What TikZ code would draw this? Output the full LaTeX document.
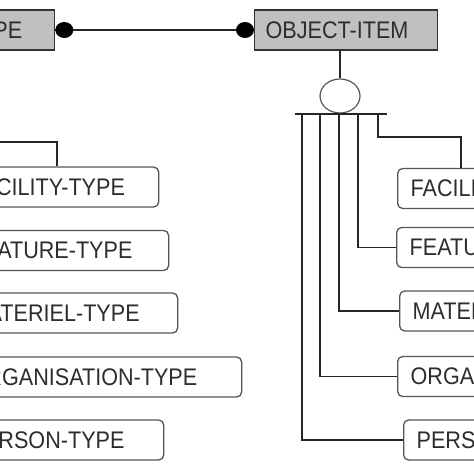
\documentclass[tikz,border=0pt]{standalone}
\usepackage{fontspec}
\setmainfont[FakeStretch=0.9]{Liberation Sans}
\usetikzlibrary{positioning,shapes.geometric}
\definecolor{boxgray}{RGB}{192,192,192}
\definecolor{edge}{RGB}{85,85,85}
\definecolor{ink}{RGB}{45,45,45}

\begin{document}
\begin{tikzpicture}[x=1pt,y=-1pt,
    entity/.style={draw=black!80, fill=boxgray, line width=1.3pt, minimum height=40pt,
      inner xsep=11pt, text width=#1, align=left, anchor=west, text=ink},
    kind/.style={draw=edge, rounded corners=5pt, line width=1.3pt, minimum height=40pt,
      inner xsep=13pt, text width=#1, align=left, anchor=west, text=ink},
    link/.style={line width=1.2pt, draw=black!85}]
    \useasboundingbox (0,0) rectangle (474,474);
    \clip (0,0) rectangle (474,474);
    \fontsize{24}{26}\selectfont

    % Top entities
    \node[entity=169pt] (otype) at (-137,30) {OBJECT-TYPE};
    \node[entity=161pt] (oitem) at (254,30) {OBJECT-ITEM};

    % Relationship with dot ends
    \draw[link] (otype.east) -- (oitem.west);
    \fill ([xshift=9pt]otype.east) ellipse (9 and 8);
    \fill ([xshift=-9pt]oitem.west) ellipse (9 and 8);

    % Left type boxes
    \foreach \nm/\txt/\tw/\yc in {lfac/FACILITY-TYPE/176/187, lfea/FEATURE-TYPE/186/250.5,
        lmat/MATERIEL-TYPE/195/313, lorg/ORGANISATION-TYPE/259/377, lper/PERSON-TYPE/181/440} {
      \node[kind=\tw pt] (\nm) at (-44,\yc) {\txt};
    }

    % Right item boxes
    \foreach \nm/\txt/\xl/\yc in {rfac/FACILITY/397/188.5, rfea/FEATURE/396/247.5,
        rmat/MATERIEL/399/311, rorg/ORGANISATION/397/376.5, rper/PERSON/403/440} {
      \node[kind=174pt] (\nm) at (\xl,\yc) {\txt};
    }

    % Subtype circle and bar
    \node[draw=edge, ellipse, line width=1.2pt, minimum width=40pt, minimum height=34pt] (disc) at (340,96) {};
    \draw[link] (disc.north |- oitem.south) -- (disc.north);
    \coordinate (barL) at (295,114);
    \coordinate (barR) at (387,114);
    \draw[link] (barL) -- (barR);

    % Branches to the item boxes
    \foreach \x/\tgt in {302/rper, 320/rorg, 339/rmat, 358/rfea} {
      \draw[link] (\x,114) |- (\tgt.west);
    }
    \coordinate (facknee) at (461,137);
    \draw[link] (378,114) |- (facknee) -- (facknee |- rfac.north);

    % Feed into the left boxes
    \coordinate (lfeed) at (-10,142);
    \coordinate (lknee) at (57,142);
    \draw[link] (lfeed) -- (lknee) -- (lknee |- lfac.north);

\end{tikzpicture}
\end{document}
